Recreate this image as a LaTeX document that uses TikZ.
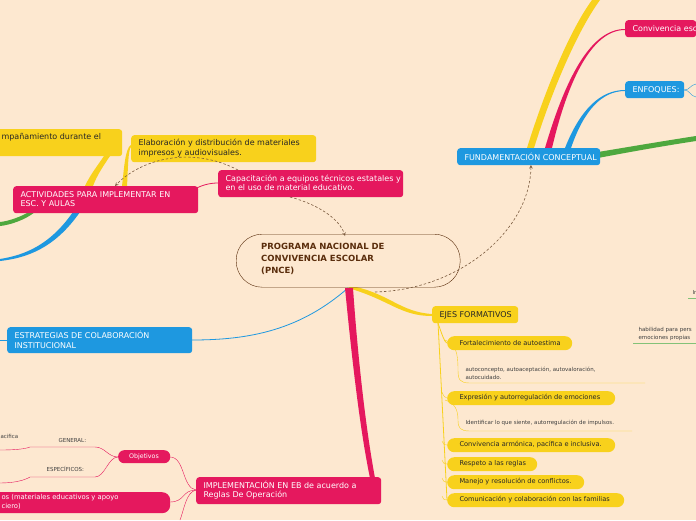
\documentclass[tikz,border=0pt]{standalone}
\usepackage{fontspec}
\setmainfont{DejaVu Sans}
\definecolor{bg}{HTML}{FDE8D0}
\definecolor{pk}{HTML}{E5185E}
\definecolor{bl}{HTML}{1E98E0}
\definecolor{yl}{HTML}{F8D11C}
\definecolor{gr}{HTML}{4EA83E}
\definecolor{br}{HTML}{5A2D0C}
\definecolor{dsh}{HTML}{7A5A3E}
\begin{document}
\begin{tikzpicture}[x=1pt,y=-1pt,
  box/.style={rounded corners=3pt,fill=#1,anchor=north west,inner sep=0pt},
  tw/.style={white,font=\fontsize{8}{9.5}\selectfont,anchor=west,align=left},
  tk/.style={black!85,font=\fontsize{8}{9.5}\selectfont,anchor=west,align=left},
  ts/.style={black!75,font=\fontsize{5.5}{8}\selectfont,anchor=west,align=left},
  dar/.style={dsh,dash pattern=on 2.5pt off 2pt,semithick,-stealth}]
\fill[bg] (0,0) rectangle (696,520);
\useasboundingbox (0,0) rectangle (696,520);
\coordinate (cb) at (350,288);
% branches from centre
\fill[yl] (348,288) .. controls (390,300) and (400,316) .. (432,316) -- (432,314) .. controls (400,312) and (390,294) .. (352,286) -- cycle;
\draw[bl,thick] (348,288) .. controls (300,330) and (250,340) .. (192,340);
\fill[pk] (345,288) .. controls (352,360) and (360,430) .. (370,478) -- (375,478) .. controls (366,430) and (358,360) .. (353,288) -- cycle;
% FUNDAMENTACION branches
\fill[yl] (527,148) .. controls (545,90) and (570,30) .. (592,0) -- (600,0) .. controls (578,30) and (552,90) .. (534,148) -- cycle;
\fill[pk] (545,148) .. controls (565,80) and (590,29) .. (625,29) -- (625,30) .. controls (592,30) and (568,80) .. (552,148) -- cycle;
\fill[bl] (565,148) .. controls (580,110) and (600,90) .. (625,90) -- (625,91) .. controls (602,91) and (584,110) .. (571,148) -- cycle;
\fill[gr] (598,152) .. controls (640,145) and (670,140) .. (696,136) -- (696,141) .. controls (670,145) and (640,150) .. (598,158) -- cycle;
\draw[bl,thin] (684,90) .. controls (690,90) and (690,85) .. (696,84);
\draw[bl,thin] (684,90) .. controls (690,90) and (690,96) .. (696,97);
% ACTIVIDADES branches
\fill[yl] (85,186) .. controls (90,175) and (98,165) .. (104,156) -- (110,156) .. controls (104,165) and (97,175) .. (93,186) -- cycle;
\fill[yl] (122,186) .. controls (124,170) and (125,148) .. (131,145) -- (131,147) .. controls (128,150) and (128,170) .. (127,186) -- cycle;
\draw[pk,thick] (190,192) .. controls (200,185) and (210,183) .. (218,183);
\fill[gr] (35,212) .. controls (25,220) and (10,225) .. (0,226) -- (0,222) .. controls (10,221) and (22,216) .. (29,212) -- cycle;
\fill[bl] (73,212) .. controls (50,245) and (25,255) .. (0,259) -- (0,261) .. controls (27,258) and (55,248) .. (80,212) -- cycle;
\draw[bl,thin] (7,340) -- (0,340);
% IMPLEMENTACION branches
\draw[pk,thin] (196,490) .. controls (182,488) and (185,457) .. (170,457);
\draw[pk,thin] (196,490) .. controls (182,490) and (185,502) .. (170,502);
\draw[pk,thin] (196,490) .. controls (186,492) and (184,510) .. (180,520);
\draw[pk,thin] (118,457) .. controls (108,457) and (105,447) .. (95,447) -- (30,447) .. controls (25,449) and (15,450) .. (0,450);
\draw[pk,thin] (118,457) .. controls (108,457) and (105,477) .. (95,477) -- (30,477) .. controls (25,480) and (15,483) .. (0,483);
% EJES internal lines
\draw[yl,thick] (438,323) .. controls (440,360) and (444,440) .. (447,500);
\draw[yl,thick] (438,323) .. controls (442,335) and (445,343) .. (447,343);
\draw[yl] (445,340) .. controls (455,345) and (458,350) .. (458,370) .. controls (458,380) and (460,383) .. (470,383) -- (645,383);
\draw[yl] (441,390) .. controls (444,397) and (445,398) .. (447,398);
\draw[yl] (445,400) .. controls (455,403) and (458,410) .. (458,420) .. controls (458,428) and (460,431) .. (470,431) -- (632,431);
\foreach \yy in {445,464,482,500} \draw[yl] (442,\yy-4) .. controls (444,\yy) .. (447,\yy);
\draw[gr!70,thick] (633,343) -- (696,343);
\draw[gr!70,thick] (688,298) -- (696,298);
% nodes
\node[box=pk,minimum width=71pt,minimum height=17pt] (conv) at (625,20) {};
\node[tw] at (629,29) {Convivencia esc};
\node[box=bl,minimum width=59pt,minimum height=17pt] (enf) at (625,81) {};
\node[tw] at (629,90) {ENFOQUES:};
\node[box=bl,minimum width=143pt,minimum height=17pt] (fund) at (457,148) {};
\node[tw] at (461,157) {FUNDAMENTACIÓN CONCEPTUAL};
\node[draw=br,fill=bg,rounded corners=26pt,minimum width=224pt,minimum height=53pt,anchor=north west] (cen) at (236,234) {};
\node[anchor=north west,align=left,text=br,font=\fontsize{8.5}{12}\selectfont\bfseries,inner sep=0pt] at (261,243) {PROGRAMA NACIONAL DE\\CONVIVENCIA ESCOLAR\\(PNCE)};
\node[box=yl,minimum width=86pt,minimum height=17pt] (ejes) at (432,306) {};
\node[tk] at (436,315) {EJES FORMATIVOS};
\foreach \n/\xa/\xb/\y/\t in {f1/447/572/336/Fortalecimiento de autoestima,f2/447/615/391/Expresión y autorregulación de emociones,f3/447/615/438/Convivencia armónica{,} pacífica e inclusiva.,f4/447/537/457/Respeto a las reglas,f5/447/584/475/Manejo y resolución de conflictos.,f6/447/624/493/Comunicación y colaboración con las familias}{
  \node[box=yl,rounded corners=7pt,minimum width=\xb-\xa,minimum height=14pt] (\n) at (\xa,\y) {};
  \node[black!85,font=\fontsize{6.6}{8}\selectfont,anchor=west] at (\xa+9,\y+7) {\t};
}
\node[ts] at (462,373) {autoconcepto, autoaceptación, autovaloración,\\autocuidado.};
\node[ts] at (462,423) {Identificar lo que siente, autorregulación de impulsos.};
\node[ts] at (635,334) {habilidad para pers\\emociones propias};
\node[ts] at (689,292) {In};
\node[box=yl,minimum width=132pt,minimum height=27pt] (acomp) at (-10,129) {};
\node[tk] at (-2,137) {mpañamiento durante el};
\node[box=yl,minimum width=185pt,minimum height=27pt] (elab) at (131,135) {};
\node[tk] at (135,148) {Elaboración y distribución de materiales\\impresos y audiovisuales.};
\node[box=pk,minimum width=185pt,minimum height=27pt] (act) at (13,186) {};
\node[tw] at (17,199) {ACTIVIDADES PARA IMPLEMENTAR EN\\ESC. Y AULAS};
\node[box=pk,minimum width=185pt,minimum height=27pt] (cap) at (218,170) {};
\node[tw] at (222,183) {Capacitación a equipos técnicos estatales y\\en el uso de material educativo.};
\node[box=bl,minimum width=185pt,minimum height=26pt] (estr) at (7,327) {};
\node[tw] at (11,340) {ESTRATEGIAS DE COLABORACIÓN\\INSTITUCIONAL};
\node[box=pk,minimum width=185pt,minimum height=27pt] (impl) at (196,477) {};
\node[tw] at (200,490) {IMPLEMENTACIÓN EN EB de acuerdo a\\Reglas De Operación};
\node[box=pk,rounded corners=6pt,minimum width=52pt,minimum height=13pt] (obj) at (118,450) {};
\node[white,font=\fontsize{6.3}{8}\selectfont] at (144,457) {Objetivos};
\node[box=pk,rounded corners=8pt,minimum width=180pt,minimum height=21pt] (mat) at (-10,492) {};
\node[white,font=\fontsize{6.8}{8.5}\selectfont,anchor=west,align=left] at (-2,502) {os (materiales educativos y apoyo\\ciero)};
\node[ts] at (55,440) {GENERAL:};
\node[ts] at (43,469) {ESPECÍFICOS:};
\node[ts] at (-3,436) {acifica};
% dashed arrows
\draw[dar] (375,292) .. controls (460,290) and (530,230) .. (531,165);
\draw[dar] (290,197) .. controls (320,205) and (340,220) .. (345,236);
\draw[dar] (238,170) .. controls (190,145) and (140,160) .. (115,186);
\end{tikzpicture}
\end{document}
